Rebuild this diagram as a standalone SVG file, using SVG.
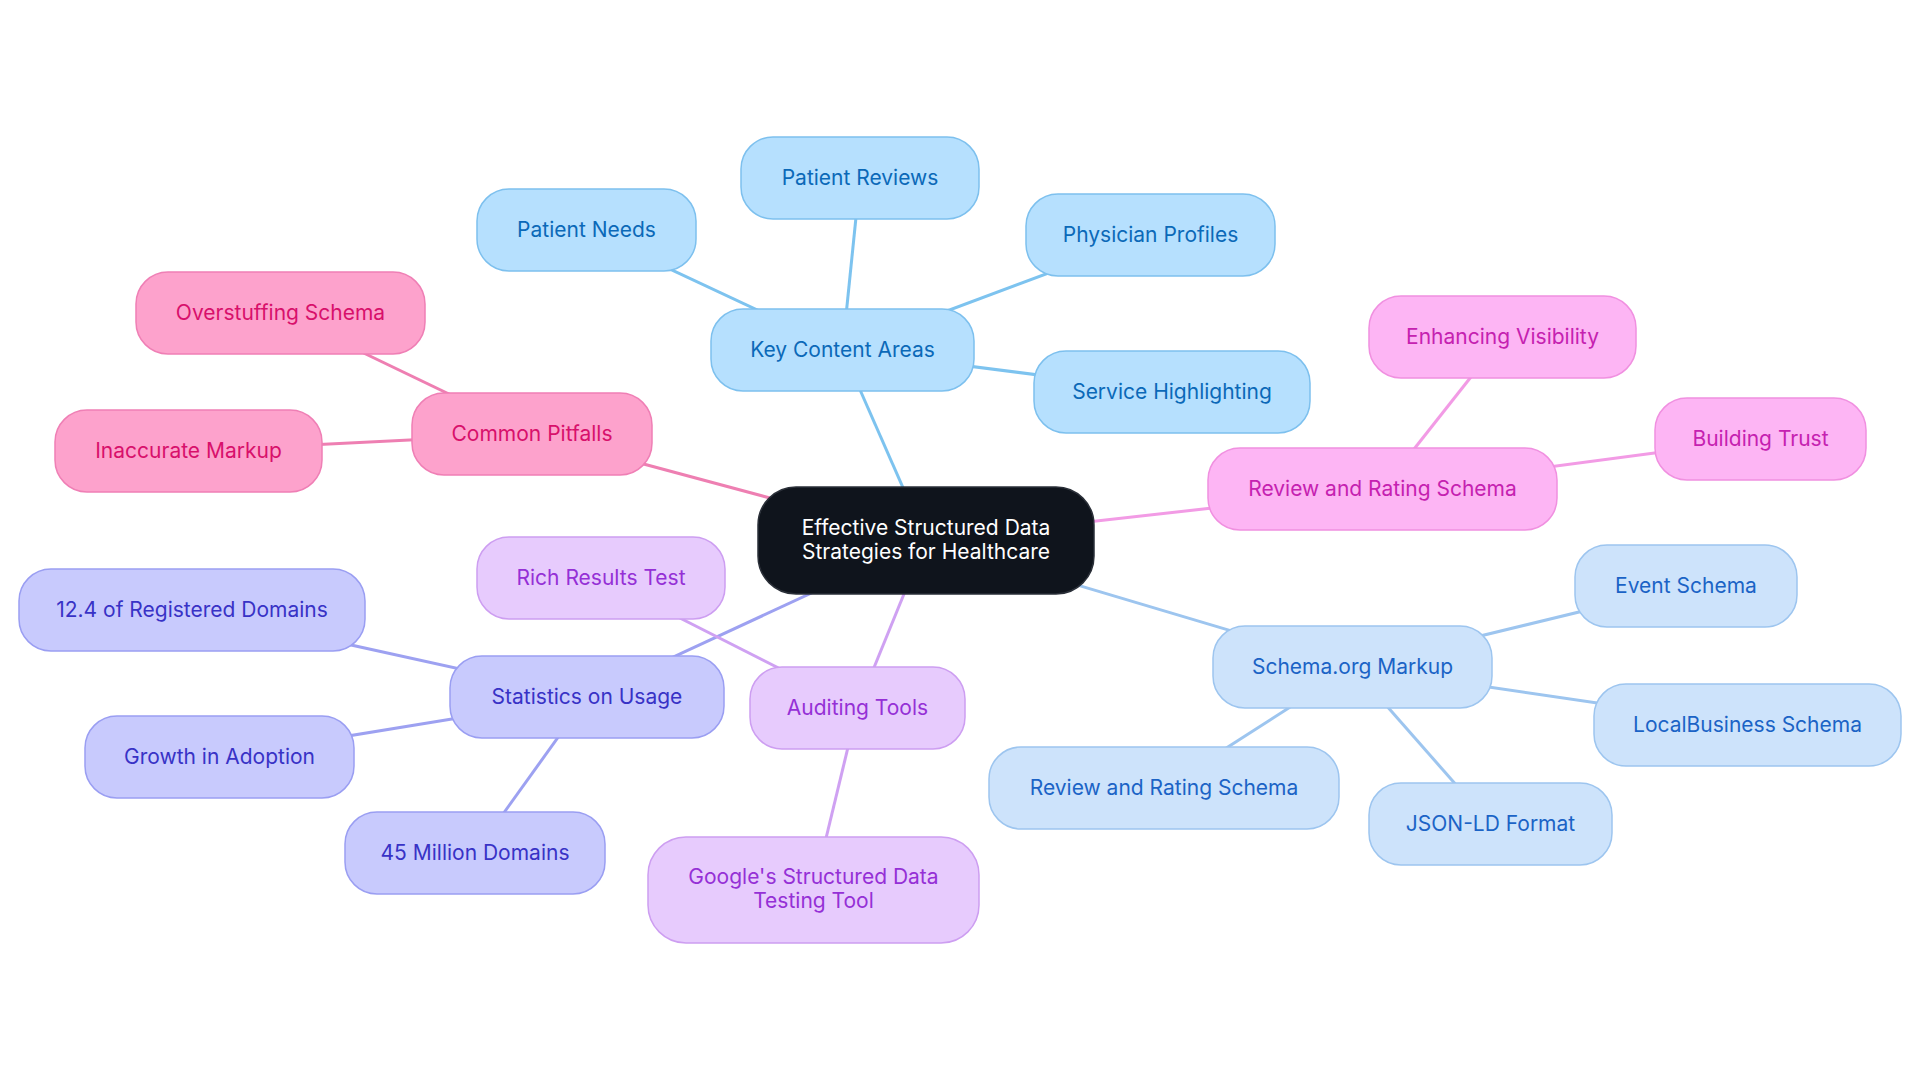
<svg xmlns="http://www.w3.org/2000/svg" width="1920" height="1083" viewBox="0 0 1920 1083">
<style>
text{font-family:Inter,"Open Sans","Liberation Sans",sans-serif;font-size:21px;text-anchor:middle}
rect{stroke-width:1.5}
line{stroke-width:3}
.c rect{fill:#0f141c;stroke:#2a2f38}.c text{fill:#ffffff}
.b rect{fill:#b6e0fe;stroke:#7dc0ee}.b text{fill:#0b69b8}
.p rect{fill:#fda2cc;stroke:#ef7fb5}.p text{fill:#d8106b}
.m rect{fill:#fdb5f4;stroke:#f090e0}.m text{fill:#c521b0}
.s rect{fill:#cde3fb;stroke:#9dc5ef}.s text{fill:#1b63c6}
.l rect{fill:#c8cafd;stroke:#9a9ef2}.l text{fill:#3832c6}
.a rect{fill:#e7cbfd;stroke:#cd9ef1}.a text{fill:#9530d6}
.eb{stroke:#7dc3ef}.ep{stroke:#ee7fb2}.em{stroke:#f29be5}.es{stroke:#9dc5ef}.el{stroke:#9da1f1}.ea{stroke:#cfa1f2}
</style>
<rect width="1920" height="1083" fill="#ffffff"/>
<g id="connectors">
<line class="eb" x1="926" y1="540" x2="842.5" y2="350"/>
<line class="eb" x1="842.5" y1="350" x2="586.5" y2="230"/>
<line class="eb" x1="842.5" y1="350" x2="860" y2="178"/>
<line class="eb" x1="842.5" y1="350" x2="1150.5" y2="235"/>
<line class="eb" x1="842.5" y1="350" x2="1172" y2="392"/>
<line class="ep" x1="926" y1="540" x2="532" y2="434"/>
<line class="ep" x1="532" y1="434" x2="280.5" y2="313"/>
<line class="ep" x1="532" y1="434" x2="188.5" y2="451"/>
<line class="em" x1="926" y1="540" x2="1382.5" y2="489"/>
<line class="em" x1="1382.5" y1="489" x2="1502.5" y2="337"/>
<line class="em" x1="1382.5" y1="489" x2="1760.5" y2="439"/>
<line class="es" x1="926" y1="540" x2="1352.5" y2="667"/>
<line class="es" x1="1352.5" y1="667" x2="1686" y2="586"/>
<line class="es" x1="1352.5" y1="667" x2="1747.5" y2="725"/>
<line class="es" x1="1352.5" y1="667" x2="1490.5" y2="824"/>
<line class="es" x1="1352.5" y1="667" x2="1164" y2="788"/>
<line class="el" x1="926" y1="540" x2="587" y2="697"/>
<line class="el" x1="587" y1="697" x2="192" y2="610"/>
<line class="el" x1="587" y1="697" x2="219.5" y2="757"/>
<line class="el" x1="587" y1="697" x2="475" y2="853"/>
<line class="ea" x1="926" y1="540" x2="857.5" y2="708"/>
<line class="ea" x1="857.5" y1="708" x2="601" y2="578"/>
<line class="ea" x1="857.5" y1="708" x2="813.5" y2="890"/>
</g>
<g id="n-root" class="c"><rect x="758" y="487" width="336" height="107" rx="38"/><text x="926" y="535">Effective Structured Data</text><text x="926" y="559">Strategies for Healthcare</text></g>
<g id="n-kca" class="b"><rect x="711" y="309" width="263" height="82" rx="32"/><text x="842.5" y="357">Key Content Areas</text></g>
<g id="n-pneeds" class="b"><rect x="477" y="189" width="219" height="82" rx="32"/><text x="586.5" y="237">Patient Needs</text></g>
<g id="n-previews" class="b"><rect x="741" y="137" width="238" height="82" rx="32"/><text x="860" y="185">Patient Reviews</text></g>
<g id="n-physician" class="b"><rect x="1026" y="194" width="249" height="82" rx="32"/><text x="1150.5" y="242">Physician Profiles</text></g>
<g id="n-service" class="b"><rect x="1034" y="351" width="276" height="82" rx="32"/><text x="1172" y="399">Service Highlighting</text></g>
<g id="n-pitfalls" class="p"><rect x="412" y="393" width="240" height="82" rx="32"/><text x="532" y="441">Common Pitfalls</text></g>
<g id="n-overstuff" class="p"><rect x="136" y="272" width="289" height="82" rx="32"/><text x="280.5" y="320">Overstuffing Schema</text></g>
<g id="n-inaccurate" class="p"><rect x="55" y="410" width="267" height="82" rx="32"/><text x="188.5" y="458">Inaccurate Markup</text></g>
<g id="n-rrs" class="m"><rect x="1208" y="448" width="349" height="82" rx="32"/><text x="1382.5" y="496">Review and Rating Schema</text></g>
<g id="n-visibility" class="m"><rect x="1369" y="296" width="267" height="82" rx="32"/><text x="1502.5" y="344">Enhancing Visibility</text></g>
<g id="n-trust" class="m"><rect x="1655" y="398" width="211" height="82" rx="32"/><text x="1760.5" y="446">Building Trust</text></g>
<g id="n-schemaorg" class="s"><rect x="1213" y="626" width="279" height="82" rx="32"/><text x="1352.5" y="674">Schema.org Markup</text></g>
<g id="n-event" class="s"><rect x="1575" y="545" width="222" height="82" rx="32"/><text x="1686" y="593">Event Schema</text></g>
<g id="n-localbiz" class="s"><rect x="1594" y="684" width="307" height="82" rx="32"/><text x="1747.5" y="732">LocalBusiness Schema</text></g>
<g id="n-jsonld" class="s"><rect x="1369" y="783" width="243" height="82" rx="32"/><text x="1490.5" y="831">JSON-LD Format</text></g>
<g id="n-rrs2" class="s"><rect x="989" y="747" width="350" height="82" rx="32"/><text x="1164" y="795">Review and Rating Schema</text></g>
<g id="n-stats" class="l"><rect x="450" y="656" width="274" height="82" rx="32"/><text x="587" y="704">Statistics on Usage</text></g>
<g id="n-registered" class="l"><rect x="19" y="569" width="346" height="82" rx="32"/><text x="192" y="617">12.4 of Registered Domains</text></g>
<g id="n-growth" class="l"><rect x="85" y="716" width="269" height="82" rx="32"/><text x="219.5" y="764">Growth in Adoption</text></g>
<g id="n-45m" class="l"><rect x="345" y="812" width="260" height="82" rx="32"/><text x="475" y="860">45 Million Domains</text></g>
<g id="n-auditing" class="a"><rect x="750" y="667" width="215" height="82" rx="32"/><text x="857.5" y="715">Auditing Tools</text></g>
<g id="n-richresults" class="a"><rect x="477" y="537" width="248" height="82" rx="32"/><text x="601" y="585">Rich Results Test</text></g>
<g id="n-google" class="a"><rect x="648" y="837" width="331" height="106" rx="38"/><text x="813.5" y="884">Google's Structured Data</text><text x="813.5" y="908">Testing Tool</text></g>
</svg>
